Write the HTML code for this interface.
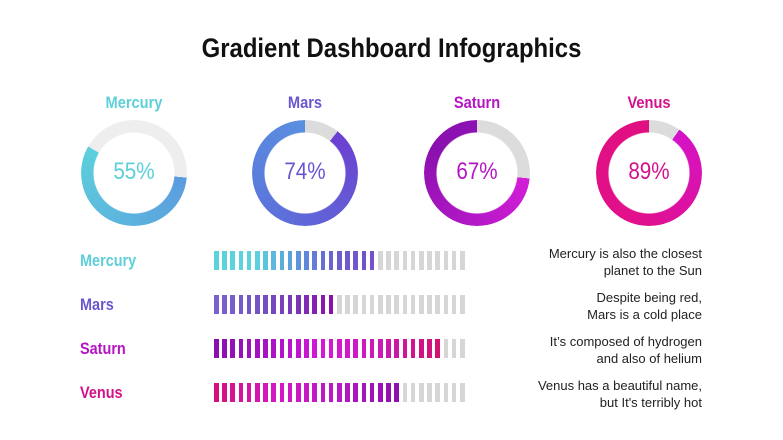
<!DOCTYPE html>
<html><head><meta charset="utf-8"><style>
body{margin:0;width:783px;height:440px;background:#fff;position:relative;overflow:hidden;font-family:"Liberation Sans",sans-serif}
.t{position:absolute;white-space:nowrap}
.c{transform:scaleX(0.86);transform-origin:center}
.title{left:0;width:783px;text-align:center;top:33px;font-size:27px;font-weight:bold;color:#111;transform:scaleX(0.885)}
.h{font-size:17px;font-weight:bold;text-align:center;width:120px;top:93px}
.d{position:absolute;width:106px;height:106px;border-radius:50%;top:120px;
-webkit-mask:radial-gradient(circle,transparent 40px,#000 41px);mask:radial-gradient(circle,transparent 40px,#000 41px)}
.p{font-size:24px;width:106px;text-align:center;top:158px}
.l{left:80px;font-size:17px;font-weight:bold;transform:scaleX(0.85);transform-origin:left}
.r{right:81px;text-align:right;font-size:13px;line-height:17px;color:#222}
.bar{position:absolute;width:4.5px;height:19px}
</style></head><body>
<div class="t title">Gradient Dashboard Infographics</div>

<div class="t h c" style="left:74px;color:#5ccfd8">Mercury</div>
<div class="t h c" style="left:245px;color:#6b55cf">Mars</div>
<div class="t h c" style="left:417px;color:#b514c4">Saturn</div>
<div class="t h c" style="left:589px;color:#d4108a">Venus</div>

<div class="d" style="left:81px;background:conic-gradient(#eeeeee 0deg 95deg,#5b9bdf 95deg,#5cd0dc 300deg,#eeeeee 300deg)"></div>
<div class="d" style="left:252px;background:conic-gradient(#dcdcdc 0deg 38deg,#6c3fd0 38deg,#5a7bdc 250deg,#5a8fe0 360deg)"></div>
<div class="d" style="left:424px;background:conic-gradient(#dcdcdc 0deg 96deg,#d41ed8 96deg,#8a10ae 300deg,#8d12b4 360deg)"></div>
<div class="d" style="left:596px;background:conic-gradient(#dcdcdc 0deg 35deg,#d413c8 35deg,#e2108a 200deg,#e01080 360deg)"></div>

<div class="t p c" style="left:81px;color:#5ccfd8">55%</div>
<div class="t p c" style="left:252px;color:#6b55cf">74%</div>
<div class="t p c" style="left:424px;color:#b514c4">67%</div>
<div class="t p c" style="left:596px;color:#d4108a">89%</div>

<div class="t l" style="top:251px;color:#5ccfd8">Mercury</div>
<div class="t l" style="top:295px;color:#6b55cf">Mars</div>
<div class="t l" style="top:339px;color:#b514c4">Saturn</div>
<div class="t l" style="top:383px;color:#d4108a">Venus</div>

<div class="t r" style="top:245px">Mercury is also the closest<br>planet to the Sun</div>
<div class="t r" style="top:289px">Despite being red,<br>Mars is a cold place</div>
<div class="t r" style="top:333px">It’s composed of hydrogen<br>and also of helium</div>
<div class="t r" style="top:377px">Venus has a beautiful name,<br>but It's terribly hot</div>

<div id="bars"></div>
<script>
var rows=[
 {y:251,n:20,c:["#5cd3dc","#5cd3dc","#5b9bdb","#6a60d0","#7650c8"]},
 {y:295,n:15,c:["#7a60d0","#7256c8","#7a3ab8","#8a10ae"]},
 {y:339,n:28,c:["#8a0fae","#a814c4","#d618d8","#c81ab4","#d41070"]},
 {y:383,n:23,c:["#d41080","#d418c4","#b818c8","#8e10ae"]}];
function hex(h){return [1,3,5].map(i=>parseInt(h.substr(i,2),16));}
function lerp(cs,t){var s=t*(cs.length-1),i=Math.min(Math.floor(s),cs.length-2),f=s-i;var a=hex(cs[i]),b=hex(cs[i+1]);return "rgb("+a.map((v,k)=>Math.round(v+(b[k]-v)*f)).join(",")+")";}
var out="";
rows.forEach(r=>{for(var i=0;i<31;i++){var col=i<r.n?lerp(r.c,r.n>1?i/(r.n-1):0):"#d6d6d6";
out+='<div class="bar" style="left:'+(214+i*8.2).toFixed(1)+'px;top:'+r.y+'px;background:'+col+'"></div>';}});
document.getElementById("bars").innerHTML=out;
</script>
</body></html>
